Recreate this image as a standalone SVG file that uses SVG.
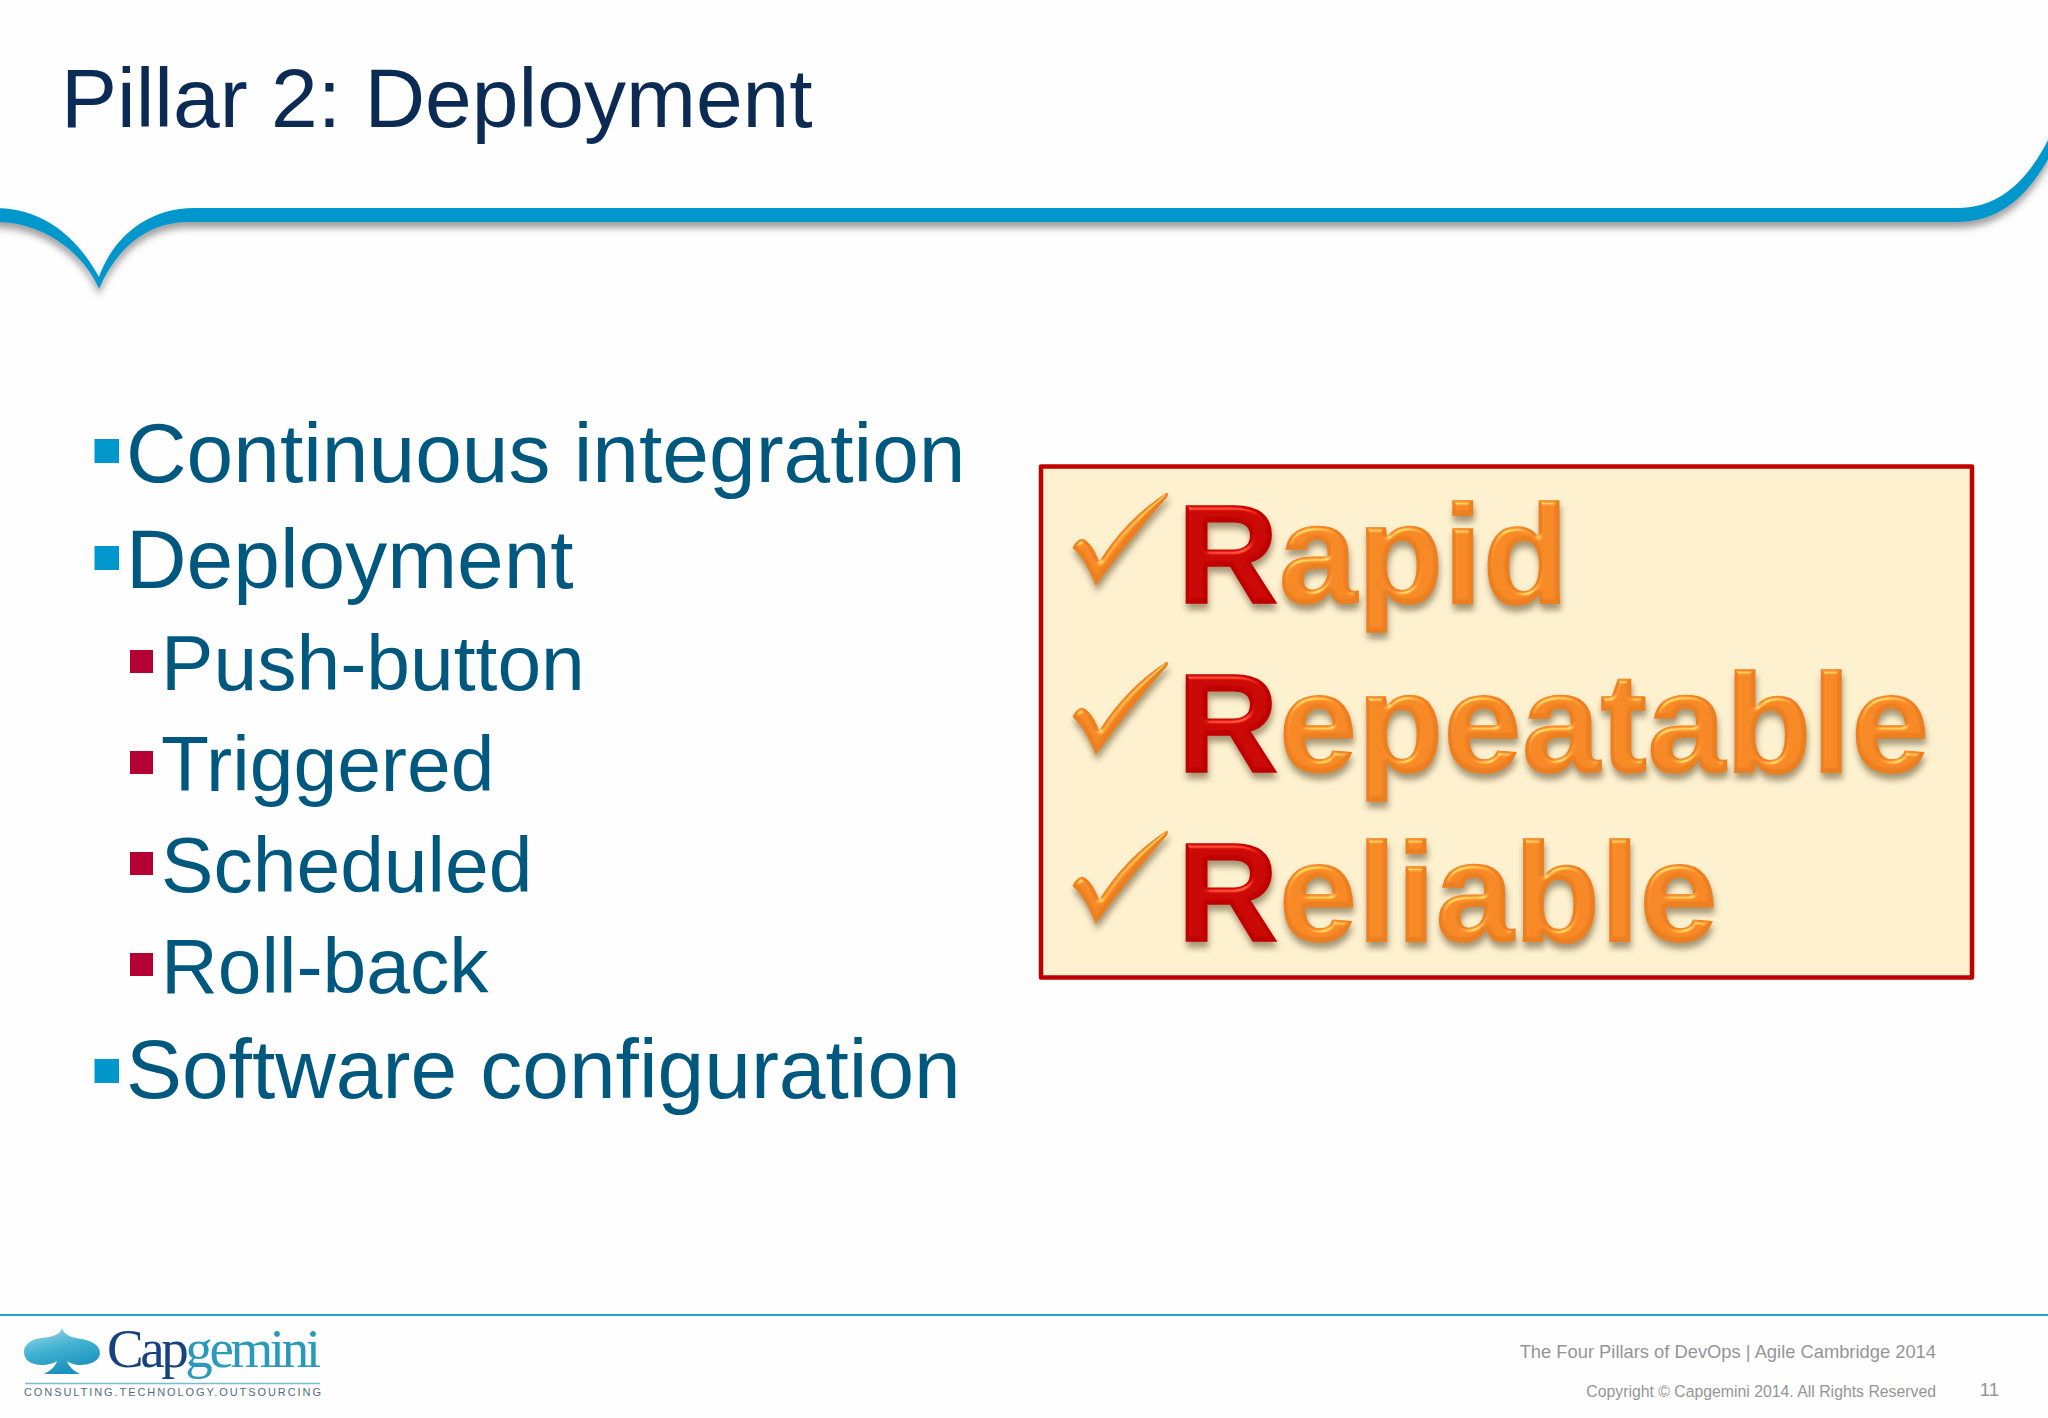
<svg xmlns="http://www.w3.org/2000/svg" width="2048" height="1418" viewBox="0 0 2048 1418">
<style>
.sans{font-family:"Liberation Sans",Arial,sans-serif}
.title{font-size:84px;fill:#0b2b54}
.l1{font-size:83.900px;fill:#00587f}
.l2{font-size:78.600px;fill:#00587f}
.big{font-size:141px;font-weight:700;fill:#ec7f20;stroke:#ec7f20;stroke-width:1.500px;filter:url(#bevel)}
.r{fill:#c00000;stroke:#c00000}
.b1{fill:#0098cc}
.b2{fill:#b40032}
.foot{fill:#959595}
.chk{fill:#ec7f20;stroke:#ec7f20;stroke-width:1px;filter:url(#bevel)}
</style>
<defs>
<filter id="bevel" x="-8%" y="-15%" width="116%" height="140%" color-interpolation-filters="sRGB">
<feGaussianBlur in="SourceAlpha" stdDeviation="2" result="b"/>
<feSpecularLighting in="b" surfaceScale="4" specularConstant="0.8" specularExponent="20" lighting-color="#ffdf9f" result="s"><feDistantLight azimuth="250" elevation="35"/></feSpecularLighting>
<feComposite in="s" in2="SourceAlpha" operator="in" result="s2"/>
<feComposite in="SourceGraphic" in2="s2" operator="arithmetic" k1="0" k2="1" k3="0.6" k4="0" result="lit"/>
<feGaussianBlur in="SourceAlpha" stdDeviation="3" result="sb"/>
<feOffset in="sb" dx="1" dy="6" result="so"/>
<feFlood flood-color="#6b5a3a" flood-opacity="0.6"/>
<feComposite in2="so" operator="in" result="sh"/>
<feMerge><feMergeNode in="sh"/><feMergeNode in="lit"/></feMerge>
</filter>
<filter id="shadow" x="-2%" y="-20%" width="104%" height="160%">
<feGaussianBlur in="SourceAlpha" stdDeviation="3.500" result="b"/>
<feOffset in="b" dy="6" result="o"/>
<feFlood flood-color="#555" flood-opacity="0.55"/>
<feComposite in2="o" operator="in" result="sh"/>
<feMerge><feMergeNode in="sh"/><feMergeNode in="SourceGraphic"/></feMerge>
</filter>
<linearGradient id="spade" x1="0" y1="0" x2="0.4" y2="1">
<stop offset="0" stop-color="#a9dbe9"/><stop offset="0.5" stop-color="#45b3d3"/><stop offset="1" stop-color="#1a92bd"/>
</linearGradient>
<path id="check" d="M1073 548C1076 541 1081 537 1086 541C1092 546 1096 554 1099 563C1116 535 1140 510 1167 493C1168 495 1167 497 1165 499C1142 525 1120 552 1096 585C1090 571 1083 556 1073 548Z"/>
</defs>
<rect id="background" width="2048" height="1418" fill="#fefefe"/>

<g id="header">
<path id="band" filter="url(#shadow)" fill="#0098cc" d="M-5 208C35 208 72 228 99 277C112 240 145 208 195 208H1957C2000 208 2030 180 2053 130V150C2030 195 2000 222 1957 222H189C150 222 118 245 99 289C88 262 52 222 -5 222Z"/>
<text id="title" class="sans title" x="61" y="127">Pillar 2: Deployment</text>
</g>

<g id="bullets" class="sans">
<g id="item-continuous"><rect class="b1" x="94.500" y="439" width="24.500" height="24"/><text class="l1" x="126" y="482">Continuous integration</text></g>
<g id="item-deployment"><rect class="b1" x="94.500" y="546" width="24.500" height="24"/><text class="l1" x="126" y="588">Deployment</text></g>
<g id="item-push"><rect class="b2" x="130" y="650" width="23" height="23"/><text class="l2" x="161" y="690">Push-button</text></g>
<g id="item-triggered"><rect class="b2" x="130" y="751" width="23" height="23"/><text class="l2" x="161" y="791">Triggered</text></g>
<g id="item-scheduled"><rect class="b2" x="130" y="852" width="23" height="23"/><text class="l2" x="161" y="892">Scheduled</text></g>
<g id="item-rollback"><rect class="b2" x="130" y="953" width="23" height="23"/><text class="l2" x="161" y="993">Roll-back</text></g>
<g id="item-software"><rect class="b1" x="94.500" y="1059" width="24.500" height="24"/><text class="l1" x="126" y="1098">Software configuration</text></g>
</g>

<g id="callout">
<rect x="1041" y="466.500" width="931" height="511" fill="#fef1cf" stroke="#c00000" stroke-width="4.500" stroke-linejoin="round"/>
<g id="row-rapid"><use href="#check" class="chk"/><text class="sans big" x="1177" y="603"><tspan class="r">R</tspan>apid</text></g>
<g id="row-repeatable"><use href="#check" y="169" class="chk"/><text class="sans big" x="1177" y="772"><tspan class="r">R</tspan>epeatable</text></g>
<g id="row-reliable"><use href="#check" y="338" class="chk"/><text class="sans big" x="1177" y="941"><tspan class="r">R</tspan>eliable</text></g>
</g>

<g id="footer">
<line x1="0" y1="1315" x2="2048" y2="1315" stroke="#2a9fd6" stroke-width="2"/>
<text class="sans foot" x="1936" y="1358" font-size="18.330" text-anchor="end">The Four Pillars of DevOps | Agile Cambridge 2014</text>
<text class="sans foot" x="1936" y="1397" font-size="15.800" text-anchor="end">Copyright © Capgemini 2014. All Rights Reserved</text>
<text class="sans foot" x="1999" y="1396" font-size="18.500" text-anchor="end">11</text>
</g>

<g id="logo">
<path fill="url(#spade)" d="M62 1328C64 1335 72 1338 82 1339C93 1341 100 1346 100 1353C100 1361 90 1365 80 1365C74 1365 70 1363 67 1361C69 1367 74 1371 80 1374H44C50 1371 55 1367 57 1361C54 1363 48 1365 42 1365C31 1365 24 1360 24 1352C24 1343 33 1339 42 1338C52 1337 60 1335 62 1328Z"/>
<text x="107" y="1367" font-family="'Liberation Serif','Times New Roman',serif" font-size="55" textLength="214" lengthAdjust="spacing"><tspan fill="#17427f">Cap</tspan><tspan fill="#2a9abb">gemini</tspan></text>
<line x1="25" y1="1383.500" x2="320" y2="1383.500" stroke="#79bccf" stroke-width="1.500"/>
<text class="sans" x="24" y="1396" font-size="11" fill="#566b7a" textLength="297" lengthAdjust="spacing">CONSULTING.TECHNOLOGY.OUTSOURCING</text>
</g>
</svg>
